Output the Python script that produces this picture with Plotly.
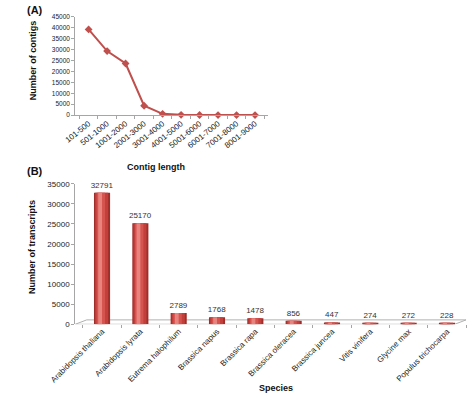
import plotly.graph_objects as go

# Panel A data
contig_bins = ["101-500", "501-1000", "1001-2000", "2001-3000", "3001-4000",
               "4001-5000", "5001-6000", "6001-7000", "7001-8000", "8001-9000"]
contig_counts = [39200, 29300, 23600, 4300, 600, 120, 60, 40, 25, 15]

# Panel B data
species = ["Arabidopsis thaliana", "Arabidopsis lyrata", "Eutrema halophilum",
           "Brassica napus", "Brassica rapa", "Brassica oleracea", "Brassica juncea",
           "Vitis vinifera", "Glycine max", "Populus trichocarpa"]
transcripts = [32791, 25170, 2789, 1768, 1478, 856, 447, 274, 272, 228]

W, H = 474, 398
FONT = "Liberation Sans, Arial, sans-serif"
RED = "#C0504D"

fig = go.Figure()

# Panel A line
fig.add_trace(go.Scatter(
    x=contig_bins, y=contig_counts, mode="lines+markers",
    line=dict(color=RED, width=2),
    marker=dict(symbol="diamond", size=6, color=RED),
    xaxis="x", yaxis="y", showlegend=False, cliponaxis=False))

# Panel B bars as layered cylinders
layers = [
    (0.42, 0.0, "#9E2E2B"),
    (0.34, -0.01, "#C23F3B"),
    (0.22, -0.03, "#D6544F"),
    (0.10, -0.05, "#E8837E"),
]
for i, (w, shift, col) in enumerate(layers):
    fig.add_trace(go.Bar(
        x=species, y=transcripts, width=w, offset=-w / 2 + shift,
        marker=dict(color=col, line=dict(width=0)),
        text=[str(v) for v in transcripts] if i == 0 else None,
        textposition="outside" if i == 0 else "none",
        constraintext="none",
        textfont=dict(size=8, color="#333333", family=FONT),
        xaxis="x2", yaxis="y2", showlegend=False, cliponaxis=False,
        hoverinfo="skip" if i else None))

axis_common = dict(showgrid=False, zeroline=False, linecolor="#A6A6A6",
                   tickcolor="#A6A6A6", ticks="outside", ticklen=3)

fig.update_layout(
    width=W, height=H,
    margin=dict(l=0, r=0, t=0, b=0),
    paper_bgcolor="white", plot_bgcolor="white",
    barmode="overlay",
    font=dict(family=FONT, color="#222222"),
    xaxis=dict(domain=[53 / W, 257 / W], anchor="y", type="category",
               showline=True, tickson="boundaries", tickangle=-38,
               tickfont=dict(family=FONT, size=8, color="#222222"), **axis_common),
    yaxis=dict(domain=[(H - 113.7) / H, (H - 13) / H], anchor="x",
               range=[0, 45000], dtick=5000, tickformat="d", showline=True,
               tickfont=dict(family=FONT, size=6.5, color="#222222"), **axis_common),
    xaxis2=dict(domain=[53 / W, 465.7 / W], anchor="y2", type="category",
                range=[-0.7, 9.5], showline=False, tickson="boundaries",
                tickangle=-45,
                tickfont=dict(family=FONT, size=8, color="#222222"), **axis_common),
    yaxis2=dict(domain=[(H - 327.7) / H, (H - 184) / H], anchor="x2",
                range=[0, 35000], dtick=5000, tickformat="d", showline=True,
                tickfont=dict(family=FONT, size=8, color="#222222"), **axis_common),
)

# 3D floor of panel B
fig.add_shape(type="path", xref="x2", yref="y2",
              path="M -0.7,0 L -0.4,1100 L 9.5,1100 L 9.2,0 Z",
              line=dict(color="#B0B0B0", width=1), fillcolor="rgba(0,0,0,0)",
              layer="below")

def ann(text, x, y, size, angle=0, xanchor="center"):
    fig.add_annotation(text=text, x=x / W, y=1 - y / H, xref="paper", yref="paper",
                       showarrow=False, textangle=angle, xanchor=xanchor,
                       yanchor="middle",
                       font=dict(family=FONT, size=size, color="#111111"))

ann("<b>(A)</b>", 0, 6, 11, xanchor="left")
ann("<b>(B)</b>", 0, 171, 11, xanchor="left")
ann("<b>Number of contigs</b>", 8, 58, 9, angle=-90)
ann("<b>Contig length</b>", 138, 166.5, 9)
ann("<b>Number of transcripts</b>", 8, 249, 9, angle=-90)
ann("<b>Species</b>", 265, 392.5, 9)

fig.write_html("out.html", config={"displayModeBar": False},
               post_script="document.body.style.margin='0';document.body.style.padding='0';")
